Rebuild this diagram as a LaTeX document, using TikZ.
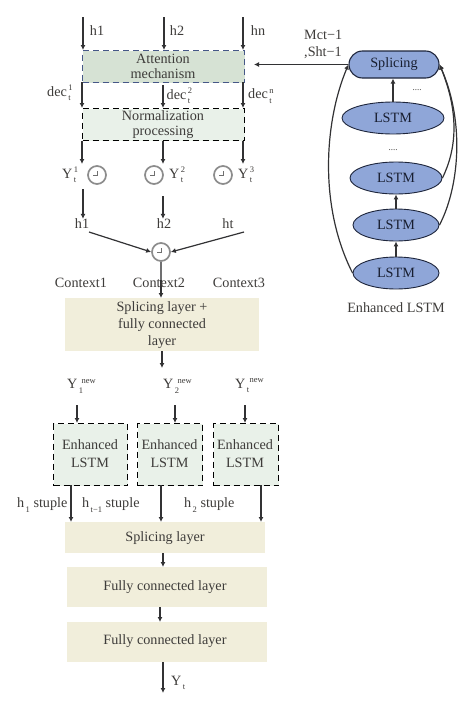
\documentclass[tikz,border=0pt]{standalone}
\usepackage{fontspec}
\setmainfont{Liberation Serif}
\usetikzlibrary{arrows.meta,shapes.geometric}
\definecolor{ink}{RGB}{50,50,52}
\definecolor{txt}{RGB}{62,60,58}
\definecolor{attfill}{RGB}{214,226,212}
\definecolor{normfill}{RGB}{233,241,233}
\definecolor{tanfill}{RGB}{241,238,219}
\definecolor{lstmfill}{RGB}{143,166,216}
\definecolor{lstmedge}{RGB}{30,38,60}
\definecolor{blued}{RGB}{70,88,135}
\definecolor{clockc}{RGB}{140,140,140}
\newcommand\supsub[2]{\rlap{\raisebox{5.5pt}{\fontsize{8.5}{9}\selectfont\,#1}}\raisebox{-4.5pt}{\fontsize{8.5}{9}\selectfont\,#2}}
\tikzset{
  arr/.style={draw=ink,line width=1.2pt,-{Latex[length=5pt,width=5pt]}},
  lab/.style={inner sep=0pt,text=txt,font=\fontsize{14.2}{15}\selectfont},
  dashbox/.style={draw=black,line width=1.4pt,dash pattern=on 6pt off 4pt,inner sep=0pt,anchor=north west},
  tanbox/.style={fill=tanfill,inner sep=0pt,anchor=north west,lab,align=center},
  lstm/.style={ellipse,draw=lstmedge,fill=lstmfill,line width=0.9pt,inner sep=0pt,lab,text=lstmedge!80!black},
  clock/.style={circle,draw=clockc,line width=1.7pt,minimum size=18pt,inner sep=0pt,fill=white},
}
\newcommand\clockhands[1]{\draw[clockc!80!black,line width=1pt] ([yshift=4pt]#1.center) -- (#1.center) -- ([xshift=-4pt]#1.center);}
\begin{document}
\begin{tikzpicture}[x=1pt,y=-1pt]
\useasboundingbox (0,0) rectangle (474,712);
\fill[white] (0,0) rectangle (474,712);
% top boxes
\node[dashbox,draw=blued,fill=attfill,minimum width=162pt,minimum height=32pt] (att) at (82,50) {};
\node[lab,align=center] (attt) at (163,66.5) {Attention\\[-0.5pt]mechanism};
\node[dashbox,fill=normfill,minimum width=162pt,minimum height=32pt] (norm) at (82,108) {};
\node[lab,align=center] (normt) at (163,124.5) {Normalization\\[-0.5pt]processing};
% input coordinates
\coordinate (i1) at (83,17); \coordinate (i2) at (164,17); \coordinate (i3) at (243,17);
\draw[arr] (i1) -- (i1 |- att.north);
\draw[arr] (i2) -- (i2 |- att.north);
\draw[arr] (i3) -- (i3 |- att.north);
\node[lab] (th1) at (97,31) {h1};
\node[lab] (th2) at (177,31) {h2};
\node[lab] (thn) at (258,31) {hn};
\coordinate (d1) at (82,82); \coordinate (d2) at (163,85); \coordinate (d3) at (243,82);
\draw[arr] (d1) -- (d1 |- norm.north);
\draw[arr] (d2) -- (d2 |- norm.north);
\draw[arr] (d3) -- (d3 |- norm.north);
\node[lab,anchor=west] (dl1) at (47,93) {dec\supsub{1}{t}};
\node[lab,anchor=west] (dl2) at (166.5,96) {dec\supsub{2}{t}};
\node[lab,anchor=west] (dl3) at (248,96) {dec\supsub{n}{t}};
% to Y
\coordinate (y1) at (82,164); \coordinate (y2) at (163,164); \coordinate (y3) at (243,164);
\draw[arr] (norm.south -| y1) -- (y1);
\draw[arr] (norm.south -| y2) -- (y2);
\draw[arr] (norm.south -| y3) -- (y3);
\node[lab,anchor=west] (Y1) at (62,175) {Y\supsub{1}{t}};
\node[lab,anchor=west] (Y2) at (169,175) {Y\supsub{2}{t}};
\node[lab,anchor=west] (Y3) at (238,175) {Y\supsub{3}{t}};
\node[clock] (c1) at (97,175) {}; \clockhands{c1}
\node[clock] (c2) at (154,175) {}; \clockhands{c2}
\node[clock] (c3) at (223,175) {}; \clockhands{c3}
% h row
\node[lab] (h1) at (82,224) {h1};
\node[lab] (h2) at (164,224) {h2};
\node[lab] (ht) at (228,224) {ht};
\coordinate (s1) at (83,189); \coordinate (s2) at (163,196);
\draw[arr] (s1) -- (s1 |- h1.north);
\draw[arr] (s2) -- (s2 |- h2.north);
\node[clock] (cm) at (161,252) {}; \clockhands{cm}
\coordinate (a1) at (89,232); \coordinate (a2) at (244,232);
\draw[arr] (a1) -- (cm.west);
\draw[arr] (a2) -- (cm.east);
% splicing + fc
\node[tanbox,minimum width=194pt,minimum height=53pt] (sfc) at (65,298) {};
\node[lab,align=center] (sfct) at (162,325) {Splicing layer +\\[2pt]fully connected\\[2pt]layer};
\draw[draw=ink!70,line width=1.4pt] (cm.south) -- (cm.south |- 0,280);
\draw[arr] (cm.south |- 0,280) -- (cm.south |- sfc.north);
\node[lab] (cx1) at (81,283) {Context1};
\node[lab] (cx2) at (159,283) {Context2};
\node[lab] (cx3) at (239,283) {Context3};
\coordinate (o) at (162,368);
\draw[arr] (sfc.south -| o) -- (o);
% Y new
\node[lab,anchor=west] (n1) at (67,386) {Y\supsub{\,\,new}{1}};
\node[lab,anchor=west] (n2) at (163,386) {Y\supsub{\,\,new}{2}};
\node[lab,anchor=west] (n3) at (235,386) {Y\supsub{\,\,new}{t}};
% enhanced boxes
\node[dashbox,fill=normfill,minimum width=74pt,minimum height=62pt] (e1) at (53,423) {};
\node[dashbox,fill=normfill,minimum width=65pt,minimum height=62pt] (e2) at (137,423) {};
\node[dashbox,fill=normfill,minimum width=65pt,minimum height=62pt] (e3) at (213,423) {};
\node[lab,align=center] (et1) at (90,453.5) {Enhanced\\[3pt]LSTM};
\node[lab,align=center] (et2) at (169.5,453.5) {Enhanced\\[3pt]LSTM};
\node[lab,align=center] (et3) at (245,453.5) {Enhanced\\[3pt]LSTM};
\coordinate (t1) at (77,405); \coordinate (t2) at (175,405); \coordinate (t3) at (245,405);
\draw[arr] (t1) -- (t1 |- e1.north);
\draw[arr] (t2) -- (t2 |- e2.north);
\draw[arr] (t3) -- (t3 |- e3.north);
% lower stack
\node[tanbox,minimum width=200pt,minimum height=31pt] (spl) at (65,522) {};
\node[lab] (splt) at (165,538) {Splicing layer};
\node[tanbox,minimum width=200pt,minimum height=40pt] (fc1) at (67,567) {};
\node[lab] (fc1t) at (165,587.5) {Fully connected layer};
\node[tanbox,minimum width=200pt,minimum height=40pt] (fc2) at (67,622) {};
\node[lab] (fc2t) at (165,641.5) {Fully connected layer};
\coordinate (b1) at (71,485); \coordinate (b2) at (161,485); \coordinate (b3) at (261,485);
\draw[arr] (b1) -- (b1 |- spl.north);
\draw[arr] (b2) -- (b2 |- spl.north);
\draw[arr] (b3) -- (b3 |- spl.north);
\node[lab,anchor=west] (st1) at (17,505) {h\supsub{}{1}\ stuple};
\node[lab,anchor=west] (st2) at (82,505) {h\supsub{}{t−1}\ stuple};
\node[lab,anchor=west] (st3) at (184,505) {h\supsub{}{2}\ stuple};
\coordinate (f1) at (163,553); \coordinate (f2) at (160,607); \coordinate (f3) at (163,693);
\draw[arr] (f1) -- (f1 |- fc1.north);
\draw[arr] (f2) -- (f2 |- fc2.north);
\draw[arr] (fc2.south -| f3) -- (f3);
\node[lab,anchor=west] (yt) at (171,683) {Y\supsub{}{t}};
% right: enhanced LSTM
\node[rounded corners=13.5pt,draw=lstmedge,fill=lstmfill,line width=1.1pt,minimum width=90pt,minimum height=27pt,inner sep=0pt,lab,text=lstmedge!80!black] (sp) at (394,64.5) {Splicing};
\node[lstm,minimum width=102pt,minimum height=32pt] (l1) at (393,118) {LSTM};
\node[lstm,minimum width=92pt,minimum height=32pt] (l2) at (396,178) {LSTM};
\node[lstm,minimum width=86pt,minimum height=32pt] (l3) at (396,225) {LSTM};
\node[lstm,minimum width=86pt,minimum height=32pt] (l4) at (396,273) {LSTM};
\draw[arr] (l1.north) -- (sp.south -| l1.north);
\draw[arr] (l3.north) -- (l2.south);
\draw[arr] (l4.north) -- (l3.south);
\draw[arr] (l4.west) .. controls (318,205) and (325,120) .. (sp.west);
\draw[arr] (l3.east) .. controls (458,190) and (466,125) .. (sp.east);
\draw[arr] (l2.east) .. controls (456,150) and (460,115) .. (sp.east);
\coordinate (ah) at (254,64.5);
\draw[arr] (sp.west) -- (ah);
\node[lab,anchor=west] (mct) at (304,35) {Mct−1};
\node[lab,anchor=west] (sht) at (304,53) {,Sht−1};
\node[lab,font=\fontsize{9}{9}\selectfont] (dots1) at (417,90) {....};
\node[lab,font=\fontsize{9}{9}\selectfont] (dots2) at (393,150) {....};
\node[lab] (enh) at (396,308) {Enhanced LSTM};
\end{tikzpicture}
\end{document}
